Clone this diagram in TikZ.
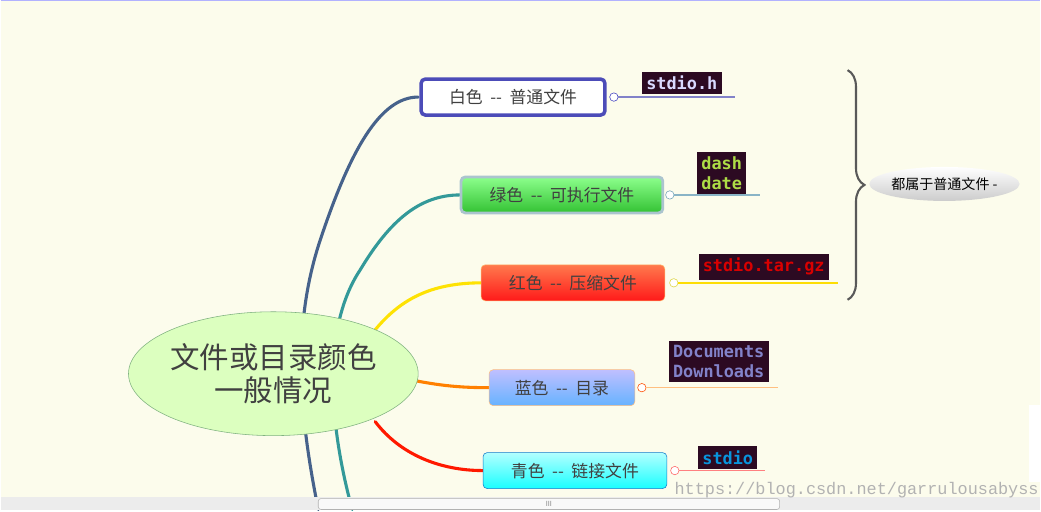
\documentclass[tikz,border=0pt]{standalone}
\usepackage{fontspec}
\setmainfont{Noto Sans CJK SC}
\newfontfamily\termfont{DejaVu Sans Mono}
\newfontfamily\markfont{Liberation Mono}
\usetikzlibrary{shapes.geometric,decorations.pathreplacing,positioning}
\definecolor{paper}{HTML}{FCFCEC}
\definecolor{term}{HTML}{2C0A22}
\newcommand{\dd}{\ \ -{}-\ \ }
\tikzset{
  topic/.style={draw, rounded corners=3pt, minimum height=0.9cm, font=\large, text=black!75},
  tag/.style={fill=term, font=\termfont\bfseries\large, inner sep=3pt, align=left},
  knob/.style={circle, draw, fill=white, inner sep=0pt, minimum size=6pt},
  branch/.style={line width=2.2pt, line cap=round},
  leaf/.style={line width=1pt}
}
\begin{document}
\begin{tikzpicture}[x=0.025cm, y=-0.025cm]
\fill[paper] (0,0) rectangle (1041,510);
\draw[blue!30, line width=1pt] (0,0.5) -- (1041,0.5);

% branches from the centre
\draw[branch, color=cyan!50!blue!60!black] (318,510) .. controls (300,420) and (290,330) .. (320,240) .. controls (350,150) and (380,97) .. (418,97);
\draw[branch, color=teal!80] (352,510) .. controls (330,430) and (320,330) .. (360,270) .. controls (390,220) and (420,195) .. (460,195);
\draw[branch, color=yellow!85!orange] (375,330) .. controls (400,300) and (430,283) .. (482,283);
\draw[branch, color=orange] (410,380) .. controls (440,386) and (460,388) .. (489,388);
\draw[branch, color=red!80!orange] (375,422) .. controls (400,455) and (440,471) .. (483,471);

\node[ellipse, draw=green!40!black!50, fill=green!55!yellow!25, minimum width=7.25cm, minimum height=3.1cm,
  align=center, font=\fontsize{21}{23}\selectfont, text=black!75, inner xsep=-0.55cm, inner ysep=0pt] (root) at (273,374) {文件或目录颜色\\一般情况};

\node[topic, draw=blue!60!black!70, line width=2.5pt, fill=white, minimum width=4.6cm] (white) at (513,97) {白色\dd 普通文件};
\node[topic, draw=cyan!30!gray!60, line width=2pt, top color=green!45, bottom color=green!70!black!80, minimum width=5.05cm] (green) at (562,195) {绿色\dd 可执行文件};
\node[topic, draw=orange!60, top color=red!50!orange!70, bottom color=red!90, minimum width=4.6cm] (red) at (573,283) {红色\dd 压缩文件};
\node[topic, draw=orange!50, top color=blue!25, bottom color=blue!50!cyan!60, minimum width=3.65cm] (blue) at (562,388) {蓝色\dd 目录};
\node[topic, draw=cyan!60!blue, top color=cyan!30, bottom color=cyan!90, minimum width=4.6cm] (cyan) at (575,471) {青色\dd 链接文件};

% leaves
\node[knob, draw=blue!50!gray] (k1) at (614,97) {};
\coordinate (e1) at (735,97);
\draw[leaf, blue!40!gray!70] (k1) -- (e1);
\node[tag, text=white!85!blue] (t1) at (682,83) {stdio.h};

\node[knob, draw=cyan!40!gray] (k2) at (670,195) {};
\coordinate (e2) at (760,195);
\draw[leaf, cyan!40!gray!80] (k2) -- (e2);
\node[tag, text=yellow!60!green!80] (t2) at (722,173) {dash\\date};

\node[knob, draw=yellow!70!gray] (k3) at (674,283) {};
\coordinate (e3) at (838,283);
\draw[leaf, yellow!80!orange] (k3) -- (e3);
\node[tag, text=red!85!black] (t3) at (764,267) {stdio.tar.gz};

\node[knob, draw=orange!60!red] (k4) at (642,388) {};
\coordinate (e4) at (778,388);
\draw[leaf, orange!50] (k4) -- (e4);
\node[tag, text=blue!40!gray!70!white] (t4) at (719,362) {Documents\\Downloads};

\node[knob, draw=red!60] (k5) at (675,471) {};
\coordinate (e5) at (765,471);
\draw[leaf, red!50] (k5) -- (e5);
\node[tag, text=cyan!80!blue] (t5) at (728,458) {stdio};

% summary
\draw[gray!70!black, line width=1.5pt, decorate, decoration={brace, amplitude=12pt}] (848,70) -- (848,300);
\node[ellipse, top color=white, bottom color=gray!40, minimum width=3.5cm, minimum height=0.85cm, inner sep=0pt, font=\normalsize] (all) at (945,184) {都属于普通文件 -};

% window chrome
\fill[gray!15] (0,497) rectangle (1041,510);
\draw[gray!60, fill=gray!5, rounded corners=2pt] (318,499) rectangle (780,510);
\node[font=\tiny, gray] (grip) at (549,504) {III};
\fill[white] (1030,405) rectangle (1041,482);
\node[font=\markfont\large, text=gray!60, anchor=east, inner sep=1pt] (mark) at (1041,491) {https://blog.csdn.net/garrulousabyss};
\end{tikzpicture}
\end{document}
